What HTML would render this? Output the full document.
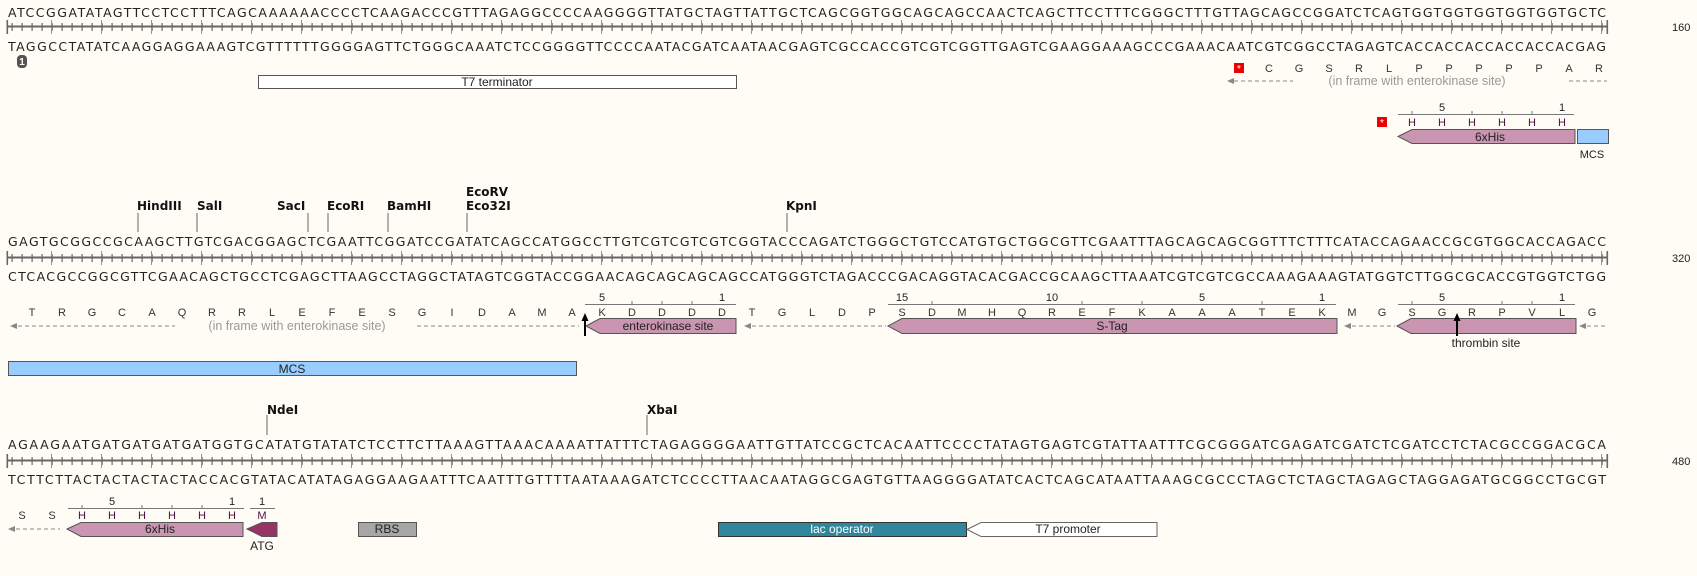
<!DOCTYPE html>
<html><head><meta charset="utf-8"><style>
html,body{margin:0;padding:0;background:#fffcf5;}
svg{display:block;}
.seq{font-family:"DejaVu Sans","Liberation Sans",sans-serif;font-size:12.5px;fill:#222;}
.aa{font-family:"Liberation Sans",sans-serif;font-size:11px;fill:#333;text-anchor:middle;}
.num{font-family:"Liberation Sans",sans-serif;font-size:11px;fill:#222;text-anchor:middle;}
.enz{font-family:"DejaVu Sans","Liberation Sans",sans-serif;font-size:12px;font-weight:bold;fill:#111;}
.lbl{font-family:"Liberation Sans",sans-serif;font-size:12px;fill:#222;text-anchor:middle;}
.gray{font-family:"Liberation Sans",sans-serif;font-size:12.5px;fill:#999;text-anchor:middle;}
.pos{font-family:"Liberation Sans",sans-serif;font-size:11px;fill:#222;}
.feat{fill:#c995b1;stroke:#555;stroke-width:1;}
.dash{stroke:#888;stroke-width:1;stroke-dasharray:4,3;}
.ah{fill:#888;}
.rl{stroke:#777;stroke-width:1;}
.ec{stroke:#666;stroke-width:1;}
</style></head><body>
<svg width="1697" height="576" viewBox="0 0 1697 576" xmlns="http://www.w3.org/2000/svg">
<defs>
<pattern id="mi" patternUnits="userSpaceOnUse" x="7" y="0" width="10" height="20"><rect x="4.5" y="6" width="1.2" height="8" fill="#666"/></pattern>
<pattern id="ma" patternUnits="userSpaceOnUse" x="2" y="0" width="50" height="20"><rect x="49.3" y="3" width="1.6" height="14" fill="#666"/></pattern>
</defs>
<rect width="1697" height="576" fill="#fffcf5"/>

<!-- ROW 1 -->
<text class="seq" x="8" y="17" textLength="1598" lengthAdjust="spacing">ATCCGGATATAGTTCCTCCTTTCAGCAAAAAACCCCTCAAGACCCGTTTAGAGGCCCCAAGGGGTTATGCTAGTTATTGCTCAGCGGTGGCAGCAGCCAACTCAGCTTCCTTTCGGGCTTTGTTAGCAGCCGGATCTCAGTGGTGGTGGTGGTGGTGCTC</text>
<g transform="translate(0,17)"><rect x="7" y="0" width="1601" height="20" fill="url(#mi)"/><rect x="7" y="0" width="1601" height="20" fill="url(#ma)"/><rect x="7" y="8.5" width="1601" height="2" fill="#666"/><rect x="6.5" y="3" width="1.6" height="14" fill="#666"/><rect x="1606.5" y="3" width="1.6" height="14" fill="#666"/></g>
<text class="pos" x="1672" y="31">160</text>
<text class="seq" x="8" y="51" textLength="1598" lengthAdjust="spacing">TAGGCCTATATCAAGGAGGAAAGTCGTTTTTTGGGGAGTTCTGGGCAAATCTCCGGGGTTCCCCAATACGATCAATAACGAGTCGCCACCGTCGTCGGTTGAGTCGAAGGAAAGCCCGAAACAATCGTCGGCCTAGAGTCACCACCACCACCACCACGAG</text>
<rect x="17" y="55" width="10" height="13" rx="4" fill="#555"/><text x="22" y="65" font-family="Liberation Sans" font-size="10" font-weight="bold" fill="#fff" text-anchor="middle">1</text>
<rect x="258.5" y="75.5" width="478" height="13" fill="#fff" stroke="#555"/><text class="lbl" x="497" y="86">T7 terminator</text>

<rect x="1234" y="63" width="10" height="10" fill="#e00"/><text x="1239" y="72" font-family="Liberation Sans" font-size="10" fill="#fff" text-anchor="middle">*</text>
<g class="aa"><text x="1269" y="72">C</text><text x="1299" y="72">G</text><text x="1329" y="72">S</text><text x="1359" y="72">R</text><text x="1389" y="72">L</text><text x="1419" y="72">P</text><text x="1449" y="72">P</text><text x="1479" y="72">P</text><text x="1509" y="72">P</text><text x="1539" y="72">P</text><text x="1569" y="72">A</text><text x="1599" y="72">R</text></g>
<line class="dash" x1="1234" y1="81" x2="1293" y2="81"/><polygon class="ah" points="1227,81 1234,78 1234,84"/>
<text class="gray" x="1417" y="85">(in frame with enterokinase site)</text>
<line class="dash" x1="1569" y1="81" x2="1607" y2="81"/>

<line class="rl" x1="1398" y1="114.5" x2="1574" y2="114.5"/>
<g class="rl"><line x1="1412" y1="111" x2="1412" y2="114"/><line x1="1472" y1="111" x2="1472" y2="114"/><line x1="1502" y1="111" x2="1502" y2="114"/><line x1="1532" y1="111" x2="1532" y2="114"/></g>
<text class="num" x="1442" y="111">5</text><text class="num" x="1562" y="111">1</text>
<g class="aa" style="fill:#4a1040"><text x="1412" y="126">H</text><text x="1442" y="126">H</text><text x="1472" y="126">H</text><text x="1502" y="126">H</text><text x="1532" y="126">H</text><text x="1562" y="126">H</text></g>
<rect x="1377" y="117" width="10" height="10" fill="#e00"/><text x="1382" y="126" font-family="Liberation Sans" font-size="10" fill="#fff" text-anchor="middle">*</text>
<polygon class="feat" points="1398,136.5 1412,129.5 1575,129.5 1575,143.5 1412,143.5"/><text class="lbl" x="1490" y="141">6xHis</text>
<rect x="1577.5" y="129.5" width="31" height="14" fill="#99ccff" stroke="#555"/>
<text class="lbl" x="1592" y="158" style="font-size:11px">MCS</text>

<!-- ROW 2 -->
<g class="ec"><line x1="138" y1="213" x2="138" y2="232"/><line x1="197" y1="213" x2="197" y2="232"/><line x1="308" y1="213" x2="308" y2="232"/><line x1="328" y1="213" x2="328" y2="232"/><line x1="388" y1="213" x2="388" y2="232"/><line x1="467" y1="213" x2="467" y2="232"/><line x1="787" y1="213" x2="787" y2="232"/></g>
<g class="enz"><text x="137" y="210">HindIII</text><text x="197" y="210">SalI</text><text x="277" y="210">SacI</text><text x="327" y="210">EcoRI</text><text x="387" y="210">BamHI</text><text x="466" y="196">EcoRV</text><text x="466" y="210">Eco32I</text><text x="786" y="210">KpnI</text></g>
<text class="seq" x="8" y="246" textLength="1598" lengthAdjust="spacing">GAGTGCGGCCGCAAGCTTGTCGACGGAGCTCGAATTCGGATCCGATATCAGCCATGGCCTTGTCGTCGTCGTCGGTACCCAGATCTGGGCTGTCCATGTGCTGGCGTTCGAATTTAGCAGCAGCGGTTTCTTTCATACCAGAACCGCGTGGCACCAGACC</text>
<g transform="translate(0,248)"><rect x="7" y="0" width="1601" height="20" fill="url(#mi)"/><rect x="7" y="0" width="1601" height="20" fill="url(#ma)"/><rect x="7" y="8.5" width="1601" height="2" fill="#666"/><rect x="6.5" y="3" width="1.6" height="14" fill="#666"/><rect x="1606.5" y="3" width="1.6" height="14" fill="#666"/></g>
<text class="pos" x="1672" y="262">320</text>
<text class="seq" x="8" y="281" textLength="1598" lengthAdjust="spacing">CTCACGCCGGCGTTCGAACAGCTGCCTCGAGCTTAAGCCTAGGCTATAGTCGGTACCGGAACAGCAGCAGCAGCCATGGGTCTAGACCCGACAGGTACACGACCGCAAGCTTAAATCGTCGTCGCCAAAGAAAGTATGGTCTTGGCGCACCGTGGTCTGG</text>

<g class="aa"><text x="32" y="316">T</text><text x="62" y="316">R</text><text x="92" y="316">G</text><text x="122" y="316">C</text><text x="152" y="316">A</text><text x="182" y="316">Q</text><text x="212" y="316">R</text><text x="242" y="316">R</text><text x="272" y="316">L</text><text x="302" y="316">E</text><text x="332" y="316">F</text><text x="362" y="316">E</text><text x="392" y="316">S</text><text x="422" y="316">G</text><text x="452" y="316">I</text><text x="482" y="316">D</text><text x="512" y="316">A</text><text x="542" y="316">M</text><text x="572" y="316">A</text>
<text x="602" y="316">K</text><text x="632" y="316">D</text><text x="662" y="316">D</text><text x="692" y="316">D</text><text x="722" y="316">D</text><text x="752" y="316">T</text><text x="782" y="316">G</text><text x="812" y="316">L</text><text x="842" y="316">D</text><text x="872" y="316">P</text><text x="902" y="316">S</text><text x="932" y="316">D</text><text x="962" y="316">M</text><text x="992" y="316">H</text><text x="1022" y="316">Q</text><text x="1052" y="316">R</text><text x="1082" y="316">E</text><text x="1112" y="316">F</text><text x="1142" y="316">K</text><text x="1172" y="316">A</text><text x="1202" y="316">A</text><text x="1232" y="316">A</text><text x="1262" y="316">T</text><text x="1292" y="316">E</text><text x="1322" y="316">K</text><text x="1352" y="316">M</text><text x="1382" y="316">G</text><text x="1412" y="316">S</text><text x="1442" y="316">G</text><text x="1472" y="316">R</text><text x="1502" y="316">P</text><text x="1532" y="316">V</text><text x="1562" y="316">L</text><text x="1592" y="316">G</text></g>

<!-- rulers row2 -->
<line class="rl" x1="585" y1="304.5" x2="736" y2="304.5"/>
<g class="rl"><line x1="632" y1="301" x2="632" y2="304"/><line x1="662" y1="301" x2="662" y2="304"/><line x1="692" y1="301" x2="692" y2="304"/></g>
<text class="num" x="602" y="301">5</text><text class="num" x="722" y="301">1</text>
<line class="rl" x1="888" y1="304.5" x2="1336" y2="304.5"/>
<g class="rl"><line x1="932" y1="301" x2="932" y2="304"/><line x1="1082" y1="301" x2="1082" y2="304"/><line x1="1142" y1="301" x2="1142" y2="304"/><line x1="1262" y1="301" x2="1262" y2="304"/></g>
<text class="num" x="902" y="301">15</text><text class="num" x="1052" y="301">10</text><text class="num" x="1202" y="301">5</text><text class="num" x="1322" y="301">1</text>
<line class="rl" x1="1398" y1="304.5" x2="1575" y2="304.5"/>
<g class="rl"><line x1="1412" y1="301" x2="1412" y2="304"/><line x1="1502" y1="301" x2="1502" y2="304"/><line x1="1532" y1="301" x2="1532" y2="304"/></g>
<text class="num" x="1442" y="301">5</text><text class="num" x="1562" y="301">1</text>

<line class="dash" x1="18" y1="326" x2="175" y2="326"/><polygon class="ah" points="10,326 17,323 17,329"/>
<text class="gray" x="297" y="330">(in frame with enterokinase site)</text>
<line class="dash" x1="417" y1="326" x2="579" y2="326"/>
<line x1="585" y1="320" x2="585" y2="336" stroke="#000" stroke-width="2"/><polygon points="585,313 581.5,321 588.5,321" fill="#000"/>
<polygon class="feat" points="586,326 600,318.5 736,318.5 736,333.5 600,333.5"/><text class="lbl" x="668" y="330">enterokinase site</text>
<line class="dash" x1="752" y1="326" x2="886" y2="326"/><polygon class="ah" points="744,326 751,323 751,329"/>
<polygon class="feat" points="888,326 902,318.5 1337,318.5 1337,333.5 902,333.5"/><text class="lbl" x="1112" y="330">S-Tag</text>
<line class="dash" x1="1352" y1="326" x2="1395" y2="326"/><polygon class="ah" points="1344,326 1351,323 1351,329"/>
<polygon class="feat" points="1397,326 1411,318.5 1576,318.5 1576,333.5 1411,333.5"/>
<line x1="1457" y1="320" x2="1457" y2="336" stroke="#000" stroke-width="2"/><polygon points="1457,313 1453.5,321 1460.5,321" fill="#000"/>
<text class="lbl" x="1486" y="347">thrombin site</text>
<line class="dash" x1="1587" y1="326" x2="1607" y2="326"/><polygon class="ah" points="1579,326 1586,323 1586,329"/>

<rect x="8.5" y="361.5" width="568" height="14" fill="#99ccff" stroke="#555"/><text class="lbl" x="292" y="373">MCS</text>

<!-- ROW 3 -->
<g class="ec"><line x1="267" y1="415" x2="267" y2="435"/><line x1="647" y1="415" x2="647" y2="435"/></g>
<g class="enz"><text x="267" y="414">NdeI</text><text x="647" y="414">XbaI</text></g>
<text class="seq" x="8" y="449" textLength="1598" lengthAdjust="spacing">AGAAGAATGATGATGATGATGGTGCATATGTATATCTCCTTCTTAAAGTTAAACAAAATTATTTCTAGAGGGGAATTGTTATCCGCTCACAATTCCCCTATAGTGAGTCGTATTAATTTCGCGGGATCGAGATCGATCTCGATCCTCTACGCCGGACGCA</text>
<g transform="translate(0,451)"><rect x="7" y="0" width="1601" height="20" fill="url(#mi)"/><rect x="7" y="0" width="1601" height="20" fill="url(#ma)"/><rect x="7" y="8.5" width="1601" height="2" fill="#666"/><rect x="6.5" y="3" width="1.6" height="14" fill="#666"/><rect x="1606.5" y="3" width="1.6" height="14" fill="#666"/></g>
<text class="pos" x="1672" y="465">480</text>
<text class="seq" x="8" y="484" textLength="1598" lengthAdjust="spacing">TCTTCTTACTACTACTACTACCACGTATACATATAGAGGAAGAATTTCAATTTGTTTTAATAAAGATCTCCCCTTAACAATAGGCGAGTGTTAAGGGGATATCACTCAGCATAATTAAAGCGCCCTAGCTCTAGCTAGAGCTAGGAGATGCGGCCTGCGT</text>

<line class="rl" x1="68" y1="508.5" x2="244" y2="508.5"/>
<g class="rl"><line x1="82" y1="505" x2="82" y2="508"/><line x1="142" y1="505" x2="142" y2="508"/><line x1="172" y1="505" x2="172" y2="508"/><line x1="202" y1="505" x2="202" y2="508"/></g>
<text class="num" x="112" y="505">5</text><text class="num" x="232" y="505">1</text>
<line class="rl" x1="250" y1="508.5" x2="275" y2="508.5"/><text class="num" x="262" y="505">1</text>
<g class="aa"><text x="22" y="519">S</text><text x="52" y="519">S</text></g>
<g class="aa" style="fill:#4a1040"><text x="82" y="519">H</text><text x="112" y="519">H</text><text x="142" y="519">H</text><text x="172" y="519">H</text><text x="202" y="519">H</text><text x="232" y="519">H</text><text x="262" y="519">M</text></g>
<line class="dash" x1="16" y1="529" x2="60" y2="529"/><polygon class="ah" points="8,529 15,526 15,532"/>
<polygon class="feat" points="67,529 81,522.5 243,522.5 243,536.5 81,536.5"/><text class="lbl" x="160" y="533">6xHis</text>
<polygon points="247,529 262,522.5 277,522.5 277,536.5 262,536.5" fill="#993366" stroke="#555"/>
<text class="lbl" x="262" y="550">ATG</text>
<rect x="358.5" y="522.5" width="58" height="14" fill="#a6a6a6" stroke="#555"/><text class="lbl" x="387" y="533">RBS</text>
<rect x="718.5" y="522.5" width="248" height="14" fill="#31869b" stroke="#333"/><text class="lbl" x="842" y="533" style="fill:#fff">lac operator</text>
<polygon points="967,529.5 981,522.5 1157,522.5 1157,536.5 981,536.5" fill="#fff" stroke="#666"/><text class="lbl" x="1068" y="533">T7 promoter</text>
</svg>
</body></html>
